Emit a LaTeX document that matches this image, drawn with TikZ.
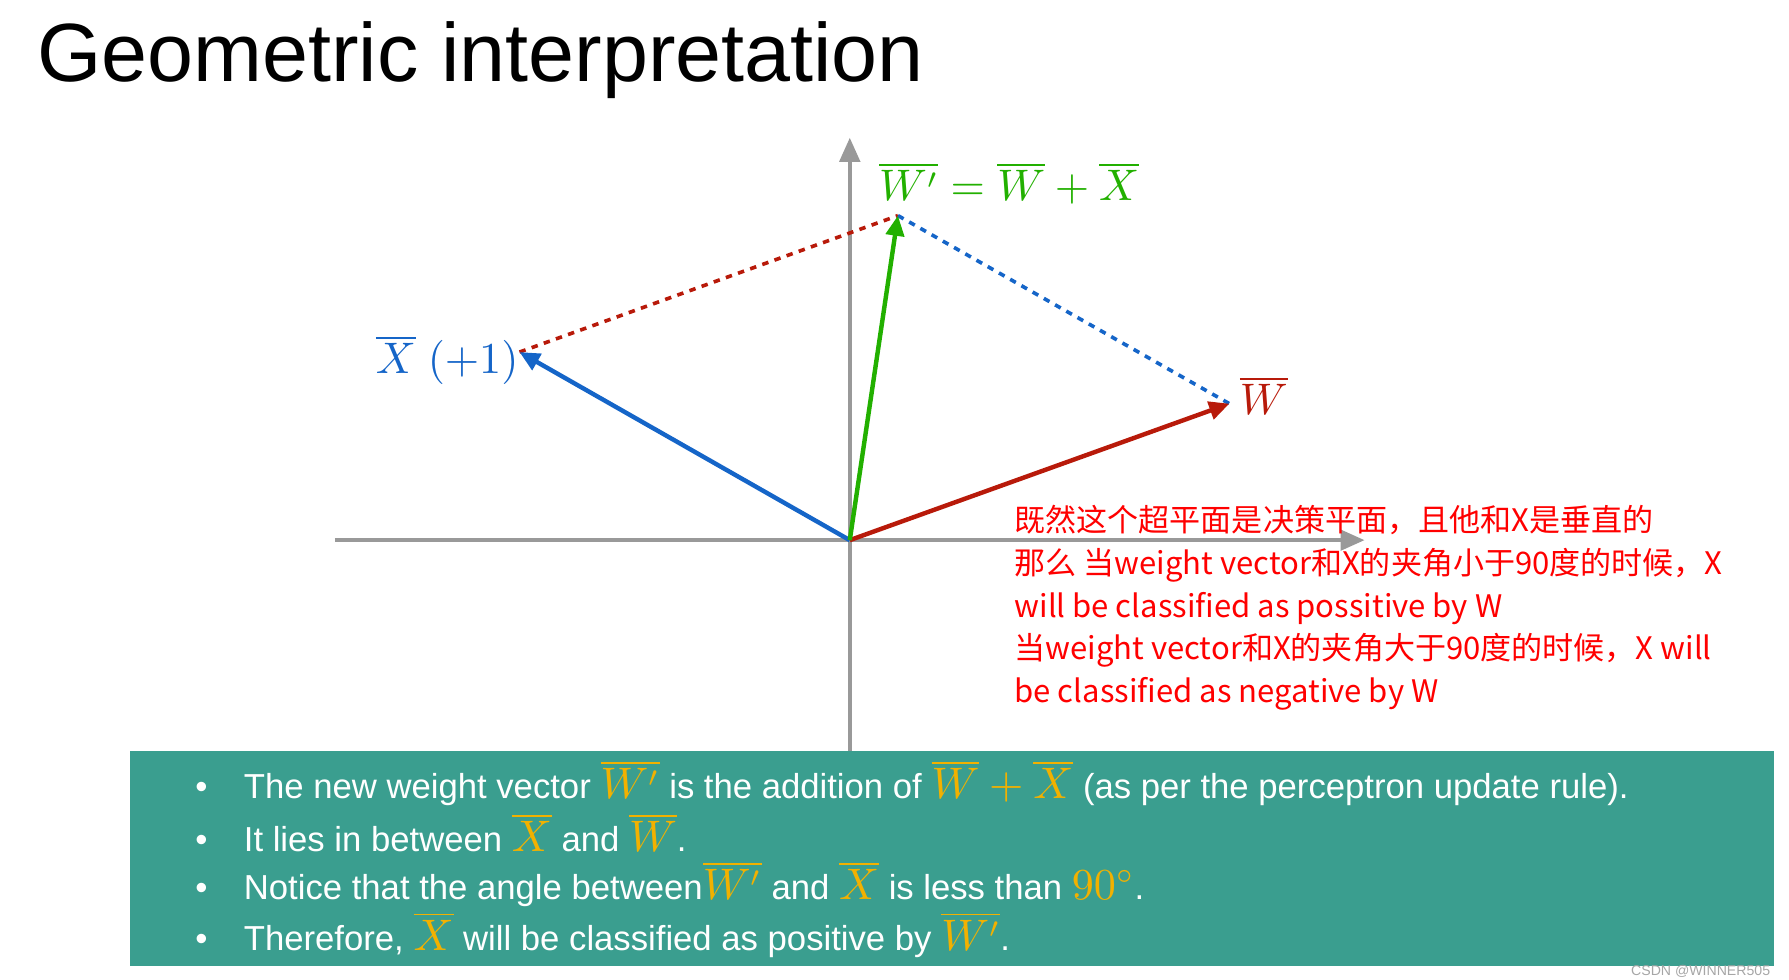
\documentclass[tikz,border=0pt]{standalone}
\usepackage{fontspec}
\setmainfont{Liberation Sans}
\newfontfamily\cjk{Noto Sans CJK SC}
\usetikzlibrary{arrows.meta}
\definecolor{tealbg}{HTML}{3A9E8F}
\definecolor{ylw}{HTML}{F2B100}
\definecolor{bl}{HTML}{1565C8}
\definecolor{rd}{HTML}{B81A0A}
\definecolor{gr}{HTML}{22B000}
\tikzset{axis/.style={draw=gray!80,line width=1.1pt,-{Triangle[length=6pt,width=5pt]}},
vec/.style={line width=1.1pt,-{Triangle[length=5pt,width=4.5pt]}},
dot/.style={line width=0.9pt,dash pattern=on 1.6pt off 1.6pt},
bul/.style={anchor=west,text=white,font=\fontsize{8.6pt}{10pt}\selectfont}}
\newcommand{\ol}[1]{\overline{#1}}
\newcommand{\ym}[1]{{\color{ylw}\fontsize{10.5pt}{12pt}\selectfont$#1$}}
\begin{document}
\begin{tikzpicture}[x=0.01cm,y=-0.01cm]
\useasboundingbox (0,0) rectangle (1560,854);
\node[anchor=west,font=\fontsize{20.5pt}{24pt}\selectfont] (title) at (20,52) {Geometric interpretation};
\coordinate (o) at (741,471);
\coordinate (yt) at (741,120); \coordinate (yb) at (741,655);
\coordinate (xl) at (292,471); \coordinate (xr) at (1190,471);
\draw[axis] (yb) -- (yt);
\draw[axis] (xl) -- (xr);
\coordinate (x) at (453,307); \coordinate (w) at (1072,352); \coordinate (wp) at (783,188);
\draw[dot,rd] (x) -- (wp);
\draw[dot,bl] (wp) -- (w);
\draw[vec,bl] (o) -- (x);
\draw[vec,rd] (o) -- (w);
\draw[vec,gr] (o) -- (wp);
\node[text=bl,font=\fontsize{10.5pt}{12pt}\selectfont] (xlab) at (390,314) {$\ol{X}\ (+1)$};
\node[text=rd,font=\fontsize{10.5pt}{12pt}\selectfont] (wl) at (1102,345) {$\ol{W}$};
\node[text=gr,font=\fontsize{10.5pt}{12pt}\selectfont] (wpl) at (880,160) {$\ol{W'}=\ol{W}+\ol{X}$};
\node[anchor=north west,text=red,align=left,font=\cjk\fontsize{7.7pt}{10.6pt}\selectfont,inner sep=0pt] (note) at (884,440) {既然这个超平面是决策平面，且他和X是垂直的\\那么 当weight vector和X的夹角小于90度的时候，X\\will be classified as possitive by W\\当weight vector和X的夹角大于90度的时候，X will\\be classified as negative by W};
\fill[tealbg] (113,655) rectangle (1547,842);
\node[bul] (b1) at (158,683) {•\hspace{9pt}The new weight vector \ym{\ol{W'}} is the addition of \ym{\ol{W}+\ol{X}} (as per the perceptron update rule).};
\node[bul] (b2) at (158,726) {•\hspace{9pt}It lies in between \ym{\ol{X}} and \ym{\ol{W}}.};
\node[bul] (b3) at (158,771) {•\hspace{9pt}Notice that the angle between\ym{\ol{W'}} and \ym{\ol{X}} is less than \ym{90^\circ}.};
\node[bul] (b4) at (158,815) {•\hspace{9pt}Therefore, \ym{\ol{X}} will be classified as positive by \ym{\ol{W'}}.};
\node[anchor=east,text=gray!70,font=\fontsize{3.5pt}{4pt}\selectfont] (wm) at (1556,847) {CSDN @WINNER505};
\end{tikzpicture}
\end{document}
